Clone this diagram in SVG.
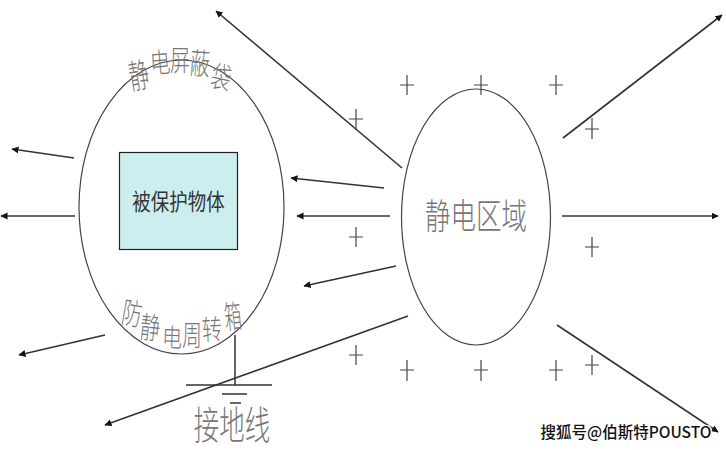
<svg xmlns="http://www.w3.org/2000/svg" width="726" height="450" viewBox="0 0 726 450">
<style>
text{font-family:"Noto Sans CJK SC","Liberation Sans",sans-serif;fill:#777;font-weight:300;text-anchor:middle}
.o{fill:none;stroke:#444;stroke-width:1.2}
.a{stroke:#333;stroke-width:1.6;fill:none;marker-end:url(#h)}
.p{stroke:#444;stroke-width:1.2;fill:none}
.g{stroke:#333;stroke-width:1.5;fill:none}
.t{font-size:20px}
.b{font-size:20px}
</style>
<defs><marker id="h" markerUnits="userSpaceOnUse" markerWidth="8" markerHeight="8" refX="6.5" refY="3.500" orient="auto"><path d="M0 0L7 3.500L0 7Z" fill="#111"/></marker></defs>
<rect width="726" height="450" fill="#fff"/>
<g id="shield"><ellipse class="o" cx="181.500" cy="207" rx="102.500" ry="147"/>
<g class="t"><text transform="translate(139,76) rotate(-10) scale(1,1.7)" y="7">静</text><text transform="translate(160,63) rotate(-5) scale(1,1.4)" y="7">电</text><text transform="translate(180,61) scale(1,1.4)" y="7">屏</text><text transform="translate(200,64) rotate(4) scale(1,1.5)" y="7">蔽</text><text transform="translate(221,78) rotate(12) scale(1,1.5)" y="7">袋</text></g>
<g class="b"><text transform="translate(132,314) rotate(10) scale(1,1.5)" y="7">防</text><text transform="translate(150,328) rotate(6) scale(1,1.5)" y="7">静</text><text transform="translate(172,338) rotate(2) scale(1,1.3)" y="7">电</text><text transform="translate(192,336) scale(1,1.4)" y="7">周</text><text transform="translate(212,330) rotate(-3) scale(1,1.4)" y="7">转</text><text transform="translate(233,317) rotate(-6) scale(.85,1.6)" y="7">箱</text></g></g>
<g id="object"><rect x="119.500" y="152.500" width="118" height="97" fill="#cdeeee" stroke="#222" stroke-width="1.2"/><text transform="translate(178.500,210) scale(1,1.2)" font-size="18.500" style="fill:#333;font-weight:400">被保护物体</text></g>
<g id="region"><ellipse class="o" cx="476" cy="217" rx="74.500" ry="128"/><text transform="translate(476,229) scale(1,1.4)" font-size="25.500">静电区域</text></g>
<g id="ground"><path class="g" d="M235 335V385M186 385H272M222 394H247M230 403H241"/><text transform="translate(232,439) scale(1,1.5)" font-size="25.500">接地线</text></g>
<g id="connectors">
<path class="a" d="M402 168L216 11"/><path class="a" d="M384 188L291 178"/><path class="a" d="M390 216H297"/><path class="a" d="M396 266L304 286"/><path class="a" d="M408 316L105 425"/>
<path class="a" d="M74 158L12 149"/><path class="a" d="M75 216H1"/><path class="a" d="M105 335L19 355"/>
<path class="a" d="M563 138L722 15"/><path class="a" d="M562 216H718"/><path class="a" d="M557 325L718 432"/>
</g>
<g id="charges"><path class="p" d="M349 119H363M356 109V130M400 85H414M407 75V95M474 85H488M481 75V95M549 85H563M556 75V95M585 129H599M592 118V139M349 237H363M356 227V247M585 247H599M592 237V257M349 355H363M356 345V365M400 370H414M407 360V381M474 370H488M481 360V381M549 370H563M556 360V381M585 365H599M592 355V375"/></g>
<text x="626" y="438" font-size="15.500" style="fill:#111;font-weight:500;stroke:#fff;stroke-width:2.500px;paint-order:stroke">搜狐号@伯斯特POUSTO</text>
</svg>
